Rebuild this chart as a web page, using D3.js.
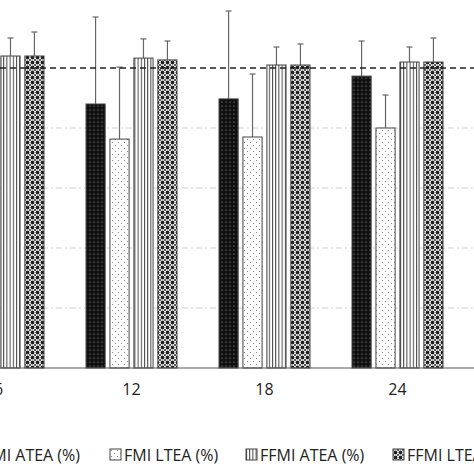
<!DOCTYPE html>
<html><head><meta charset="utf-8">
<script src="https://cdn.jsdelivr.net/npm/d3@7"></script>
<style>body{margin:0;background:#fff}svg{display:block}</style>
</head><body><svg id="c" width="474" height="474"></svg>
<script>
const categories = ["6","12","18","24"];
const series = ["FMI ATEA (%)","FMI LTEA (%)","FFMI ATEA (%)","FFMI LTEA (%)"];
const fmiAtea = [95, 88, 89.7, 97.3];
const fmiAteaErr = [112, 117, 119, 109];
const fmiLtea = [80, 76.3, 77, 80];
const fmiLteaErr = [96, 100.3, 98, 91];
const ffmiAtea = [104, 103.3, 101, 102];
const ffmiAteaErr = [110, 109.7, 107, 107];
const ffmiLtea = [104, 102.7, 101, 102];
const ffmiLteaErr = [112, 109, 108, 110];
const gridValues = [20, 40, 60, 80];
const refValue = 100;

const vals = [fmiAtea, fmiLtea, ffmiAtea, ffmiLtea];
const errs = [fmiAteaErr, fmiLteaErr, ffmiAteaErr, ffmiLteaErr];

const svg = d3.select("#c");
const defs = svg.append("defs");
// patterns
let p = defs.append("pattern").attr("id","p0").attr("width",4).attr("height",4).attr("patternUnits","userSpaceOnUse");
p.append("rect").attr("width",4).attr("height",4).attr("fill","#111");
p.append("circle").attr("cx",2).attr("cy",2).attr("r",0.6).attr("fill","#aaa");
p = defs.append("pattern").attr("id","p1").attr("width",6).attr("height",6).attr("patternUnits","userSpaceOnUse");
p.append("rect").attr("width",6).attr("height",6).attr("fill","#fff");
p.append("circle").attr("cx",1.5).attr("cy",1.5).attr("r",0.6).attr("fill","#777");
p.append("circle").attr("cx",4.5).attr("cy",4.5).attr("r",0.6).attr("fill","#777");
p = defs.append("pattern").attr("id","p2").attr("width",3.2).attr("height",4).attr("patternUnits","userSpaceOnUse");
p.append("rect").attr("width",3.2).attr("height",4).attr("fill","#fff");
p.append("rect").attr("width",1).attr("height",4).attr("fill","#444");
p = defs.append("pattern").attr("id","p3").attr("width",5).attr("height",5).attr("patternUnits","userSpaceOnUse");
p.append("rect").attr("width",5).attr("height",5).attr("fill","#fff");
p.append("circle").attr("cx",2.5).attr("cy",2.5).attr("r",1.9).attr("fill","#222");
p.append("circle").attr("cx",0).attr("cy",0).attr("r",1).attr("fill","#222");
p.append("circle").attr("cx",5).attr("cy",0).attr("r",1).attr("fill","#222");
p.append("circle").attr("cx",0).attr("cy",5).attr("r",1).attr("fill","#222");
p.append("circle").attr("cx",5).attr("cy",5).attr("r",1).attr("fill","#222");

const y = d3.scaleLinear().domain([0,120]).range([368,8]);
const x = d3.scalePoint().domain(categories).range([-2,397]);
const xs = d3.scaleBand().domain(series).range([-45,46]).paddingInner(0.2);

svg.append("g").selectAll("line").data(gridValues).join("line")
 .attr("x1",0).attr("x2",474).attr("y1",d=>y(d)).attr("y2",d=>y(d))
 .attr("stroke","#d0d0d0").attr("stroke-width",1).attr("stroke-dasharray","6,3,2,3");

series.forEach((s,si)=>{
  const g = svg.append("g");
  g.selectAll("line").data(categories).join("line")
   .attr("x1",(c)=>x(c)+xs(s)+xs.bandwidth()/2).attr("x2",(c)=>x(c)+xs(s)+xs.bandwidth()/2)
   .attr("y1",(c,i)=>y(vals[si][i])).attr("y2",(c,i)=>y(errs[si][i]))
   .attr("stroke","#666").attr("stroke-width",1.2);
  g.selectAll("path").data(categories).join("line")
   .attr("x1",(c)=>x(c)+xs(s)+xs.bandwidth()/2-3).attr("x2",(c)=>x(c)+xs(s)+xs.bandwidth()/2+3)
   .attr("y1",(c,i)=>y(errs[si][i])).attr("y2",(c,i)=>y(errs[si][i]))
   .attr("stroke","#666").attr("stroke-width",1.2);
  g.selectAll("rect").data(categories).join("rect")
   .attr("x",c=>x(c)+xs(s)).attr("width",xs.bandwidth())
   .attr("y",(c,i)=>y(vals[si][i])).attr("height",(c,i)=>y(0)-y(vals[si][i]))
   .attr("fill",`url(#p${si})`).attr("stroke","#444").attr("stroke-width",1);
});

svg.append("line").attr("x1",0).attr("x2",474).attr("y1",y(refValue)).attr("y2",y(refValue))
 .attr("stroke","#222").attr("stroke-width",1.3).attr("stroke-dasharray","6,4");

const ax = svg.append("g").attr("transform",`translate(0,${y(0)})`)
 .call(d3.axisBottom(x).tickSize(0).tickPadding(16));
ax.select(".domain").attr("stroke","#555").attr("d","M0,0H474");
ax.selectAll("text").attr("font-family","Open Sans, sans-serif").attr("font-size",16).attr("fill","#222");

const legX = [-30, 110, 246, 393];
const leg = svg.append("g").attr("transform","translate(0,455)");
series.forEach((s,i)=>{
  const e = leg.append("g").attr("transform",`translate(${legX[i]},0)`);
  e.append("rect").attr("x",0).attr("y",-6).attr("width",11).attr("height",11).attr("fill",`url(#p${i})`).attr("stroke","#444");
  e.append("text").attr("x",14).attr("y",6).text(s).attr("font-family","Open Sans, sans-serif").attr("font-size",16).attr("fill","#222");
});
</script></body></html>
